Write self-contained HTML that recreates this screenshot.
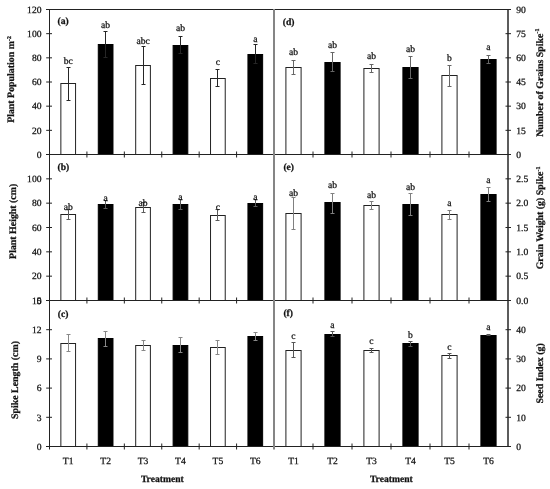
<!DOCTYPE html><html><head><meta charset="utf-8"><title>Figure</title><style>html,body{margin:0;padding:0;background:#fff}svg{display:block}text{font-family:"Liberation Serif","Times New Roman",serif;font-size:9.6px;fill:#111;stroke:#111;stroke-width:.25px;text-rendering:geometricPrecision}.b{font-weight:bold}.ax{stroke:#222;stroke-width:1;fill:none}.eb{stroke:#5a5a5a;stroke-width:1;fill:none}.wb{fill:#fff;stroke:#222;stroke-width:1}.kb{fill:#000;stroke:#000;stroke-width:1}</style></head><body>
<svg width="550" height="489" viewBox="0 0 550 489">
<rect width="550" height="489" fill="#fff"/>
<rect class="wb" x="60.86" y="83.5" width="14.7" height="71.0"/>
<path class="eb" style="stroke:#262626" d="M68.5 67.0V101.0M66.5 67.5h4M66.5 100.5h4"/>
<text x="68.21" y="64.40" text-anchor="middle">bc</text>
<rect class="kb" x="98.28" y="44.5" width="14.7" height="110.0"/>
<path class="eb" style="stroke:#262626" d="M105.5 31.0V58.0M103.5 31.5h4M103.5 57.5h4"/>
<text x="105.62" y="28.00" text-anchor="middle">ab</text>
<rect class="wb" x="135.69" y="65.5" width="14.7" height="89.0"/>
<path class="eb" style="stroke:#262626" d="M143.5 46.0V85.0M141.5 46.5h4M141.5 84.5h4"/>
<text x="143.04" y="43.60" text-anchor="middle">abc</text>
<rect class="kb" x="173.11" y="45.5" width="14.7" height="109.0"/>
<path class="eb" style="stroke:#262626" d="M180.5 36.0V54.0M178.5 36.5h4M178.5 53.5h4"/>
<text x="180.46" y="31.00" text-anchor="middle">ab</text>
<rect class="wb" x="210.53" y="78.5" width="14.7" height="76.0"/>
<path class="eb" style="stroke:#262626" d="M217.5 69.0V87.0M215.5 69.5h4M215.5 86.5h4"/>
<text x="217.88" y="65.00" text-anchor="middle">c</text>
<rect class="kb" x="247.94" y="54.5" width="14.7" height="100.0"/>
<path class="eb" style="stroke:#262626" d="M255.5 44.0V64.0M253.5 44.5h4M253.5 63.5h4"/>
<text x="255.29" y="41.60" text-anchor="middle">a</text>
<rect class="wb" x="60.86" y="214.5" width="14.7" height="86.0"/>
<path class="eb" style="stroke:#5a5a5a" d="M68.5 209.0V220.0M66.5 209.5h4M66.5 219.5h4"/>
<text x="68.21" y="210.40" text-anchor="middle">ab</text>
<rect class="kb" x="98.28" y="204.5" width="14.7" height="96.0"/>
<path class="eb" style="stroke:#5a5a5a" d="M105.5 200.0V209.0M103.5 200.5h4M103.5 208.5h4"/>
<text x="105.62" y="200.60" text-anchor="middle">a</text>
<rect class="wb" x="135.69" y="207.5" width="14.7" height="93.0"/>
<path class="eb" style="stroke:#5a5a5a" d="M143.5 202.0V213.0M141.5 202.5h4M141.5 212.5h4"/>
<text x="143.04" y="205.60" text-anchor="middle">ab</text>
<rect class="kb" x="173.11" y="204.5" width="14.7" height="96.0"/>
<path class="eb" style="stroke:#5a5a5a" d="M180.5 199.0V210.0M178.5 199.5h4M178.5 209.5h4"/>
<text x="180.46" y="199.60" text-anchor="middle">a</text>
<rect class="wb" x="210.53" y="215.5" width="14.7" height="85.0"/>
<path class="eb" style="stroke:#5a5a5a" d="M217.5 209.0V221.0M215.5 209.5h4M215.5 220.5h4"/>
<text x="217.88" y="210.00" text-anchor="middle">c</text>
<rect class="kb" x="247.94" y="203.5" width="14.7" height="97.0"/>
<path class="eb" style="stroke:#5a5a5a" d="M255.5 199.0V207.0M253.5 199.5h4M253.5 206.5h4"/>
<text x="255.29" y="200.40" text-anchor="middle">a</text>
<rect class="wb" x="60.86" y="343.5" width="14.7" height="103.0"/>
<path class="eb" style="stroke:#888" d="M68.5 334.0V352.0M66.5 334.5h4M66.5 351.5h4"/>
<rect class="kb" x="98.28" y="338.5" width="14.7" height="108.0"/>
<path class="eb" style="stroke:#888" d="M105.5 331.0V347.0M103.5 331.5h4M103.5 346.5h4"/>
<rect class="wb" x="135.69" y="345.5" width="14.7" height="101.0"/>
<path class="eb" style="stroke:#888" d="M143.5 340.0V351.0M141.5 340.5h4M141.5 350.5h4"/>
<rect class="kb" x="173.11" y="345.5" width="14.7" height="101.0"/>
<path class="eb" style="stroke:#888" d="M180.5 337.0V353.0M178.5 337.5h4M178.5 352.5h4"/>
<rect class="wb" x="210.53" y="347.5" width="14.7" height="99.0"/>
<path class="eb" style="stroke:#888" d="M217.5 340.0V355.0M215.5 340.5h4M215.5 354.5h4"/>
<rect class="kb" x="247.94" y="336.5" width="14.7" height="110.0"/>
<path class="eb" style="stroke:#888" d="M255.5 332.0V341.0M253.5 332.5h4M253.5 340.5h4"/>
<rect class="wb" x="285.90" y="67.5" width="15.2" height="87.0"/>
<path class="eb" style="stroke:#666" d="M293.5 60.0V75.0M291.5 60.5h4M291.5 74.5h4"/>
<text x="293.50" y="55.00" text-anchor="middle">ab</text>
<rect class="kb" x="324.90" y="62.5" width="15.2" height="92.0"/>
<path class="eb" style="stroke:#666" d="M332.5 52.0V72.0M330.5 52.5h4M330.5 71.5h4"/>
<text x="332.50" y="48.00" text-anchor="middle">ab</text>
<rect class="wb" x="363.90" y="68.5" width="15.2" height="86.0"/>
<path class="eb" style="stroke:#666" d="M371.5 64.0V73.0M369.5 64.5h4M369.5 72.5h4"/>
<text x="371.50" y="59.00" text-anchor="middle">ab</text>
<rect class="kb" x="402.90" y="67.5" width="15.2" height="87.0"/>
<path class="eb" style="stroke:#666" d="M410.5 56.0V79.0M408.5 56.5h4M408.5 78.5h4"/>
<text x="410.50" y="52.00" text-anchor="middle">ab</text>
<rect class="wb" x="441.90" y="75.5" width="15.2" height="79.0"/>
<path class="eb" style="stroke:#666" d="M449.5 65.0V87.0M447.5 65.5h4M447.5 86.5h4"/>
<text x="449.50" y="61.00" text-anchor="middle">b</text>
<rect class="kb" x="480.90" y="59.5" width="15.2" height="95.0"/>
<path class="eb" style="stroke:#666" d="M488.5 55.0V64.0M486.5 55.5h4M486.5 63.5h4"/>
<text x="488.50" y="50.00" text-anchor="middle">a</text>
<rect class="wb" x="285.90" y="213.5" width="15.2" height="87.0"/>
<path class="eb" style="stroke:#808080" d="M293.5 197.0V230.0M291.5 197.5h4M291.5 229.5h4"/>
<text x="293.50" y="196.00" text-anchor="middle">ab</text>
<rect class="kb" x="324.90" y="202.5" width="15.2" height="98.0"/>
<path class="eb" style="stroke:#808080" d="M332.5 193.0V214.0M330.5 193.5h4M330.5 213.5h4"/>
<text x="332.50" y="188.00" text-anchor="middle">ab</text>
<rect class="wb" x="363.90" y="205.5" width="15.2" height="95.0"/>
<path class="eb" style="stroke:#808080" d="M371.5 201.0V210.0M369.5 201.5h4M369.5 209.5h4"/>
<text x="371.50" y="197.60" text-anchor="middle">ab</text>
<rect class="kb" x="402.90" y="204.5" width="15.2" height="96.0"/>
<path class="eb" style="stroke:#808080" d="M410.5 193.0V216.0M408.5 193.5h4M408.5 215.5h4"/>
<text x="410.50" y="189.60" text-anchor="middle">ab</text>
<rect class="wb" x="441.90" y="214.5" width="15.2" height="86.0"/>
<path class="eb" style="stroke:#808080" d="M449.5 210.0V220.0M447.5 210.5h4M447.5 219.5h4"/>
<text x="449.50" y="206.00" text-anchor="middle">a</text>
<rect class="kb" x="480.90" y="194.5" width="15.2" height="106.0"/>
<path class="eb" style="stroke:#808080" d="M488.5 187.0V202.0M486.5 187.5h4M486.5 201.5h4"/>
<text x="488.50" y="183.40" text-anchor="middle">a</text>
<rect class="wb" x="285.90" y="350.5" width="15.2" height="96.0"/>
<path class="eb" style="stroke:#555" d="M293.5 342.0V358.0M291.5 342.5h4M291.5 357.5h4"/>
<text x="293.50" y="339.00" text-anchor="middle">c</text>
<rect class="kb" x="324.90" y="334.5" width="15.2" height="112.0"/>
<path class="eb" style="stroke:#555" d="M332.5 331.0V337.0M330.5 331.5h4M330.5 336.5h4"/>
<text x="332.50" y="328.00" text-anchor="middle">a</text>
<rect class="wb" x="363.90" y="350.5" width="15.2" height="96.0"/>
<path class="eb" style="stroke:#555" d="M371.5 348.0V353.0M369.5 348.5h4M369.5 352.5h4"/>
<text x="371.50" y="344.40" text-anchor="middle">c</text>
<rect class="kb" x="402.90" y="343.5" width="15.2" height="103.0"/>
<path class="eb" style="stroke:#555" d="M410.5 341.0V347.0M408.5 341.5h4M408.5 346.5h4"/>
<text x="410.50" y="337.60" text-anchor="middle">b</text>
<rect class="wb" x="441.90" y="355.5" width="15.2" height="91.0"/>
<path class="eb" style="stroke:#555" d="M449.5 353.0V359.0M447.5 353.5h4M447.5 358.5h4"/>
<text x="449.50" y="350.00" text-anchor="middle">c</text>
<rect class="kb" x="480.90" y="335.5" width="15.2" height="111.0"/>
<path class="eb" style="stroke:#555" d="M488.5 334.0V336.0M486.5 334.5h4M486.5 335.5h4"/>
<text x="488.50" y="330.40" text-anchor="middle">a</text>
<path class="ax" d="M46.0 9.5H511.0"/>
<path class="ax" d="M46.0 154.5H511.0"/>
<path class="ax" d="M46.0 300.5H511.0"/>
<path class="ax" d="M46.0 446.5H511.0"/>
<path class="ax" d="M49.5 9.0V449.5"/>
<rect x="273" y="9" width="2" height="440.5" fill="#858585"/>
<rect x="507" y="9" width="2" height="438" fill="#5c5c5c"/>
<path class="ax" d="M86.92 151.5V157.5M124.33 151.5V157.5M161.75 151.5V157.5M199.17 151.5V157.5M236.58 151.5V157.5M313.00 151.5V157.5M352.00 151.5V157.5M391.00 151.5V157.5M430.00 151.5V157.5M469.00 151.5V157.5"/>
<path class="ax" d="M86.92 297.5V303.5M124.33 297.5V303.5M161.75 297.5V303.5M199.17 297.5V303.5M236.58 297.5V303.5M313.00 297.5V303.5M352.00 297.5V303.5M391.00 297.5V303.5M430.00 297.5V303.5M469.00 297.5V303.5"/>
<path class="ax" d="M86.92 443.5V449.5M124.33 443.5V449.5M161.75 443.5V449.5M199.17 443.5V449.5M236.58 443.5V449.5M313.00 443.5V449.5M352.00 443.5V449.5M391.00 443.5V449.5M430.00 443.5V449.5M469.00 443.5V449.5"/>
<text x="41.5" y="157.70" text-anchor="end">0</text>
<text x="41.5" y="133.53" text-anchor="end">20</text>
<text x="41.5" y="109.37" text-anchor="end">40</text>
<text x="41.5" y="85.20" text-anchor="end">60</text>
<text x="41.5" y="61.03" text-anchor="end">80</text>
<text x="41.5" y="36.87" text-anchor="end">100</text>
<text x="41.5" y="12.70" text-anchor="end">120</text>
<path class="ax" d="M46.2 154.50H52.0M46.2 130.33H52.0M46.2 106.17H52.0M46.2 82.00H52.0M46.2 57.83H52.0M46.2 33.67H52.0M46.2 9.50H52.0"/>
<text x="41.5" y="303.70" text-anchor="end">0</text>
<text x="41.5" y="279.37" text-anchor="end">20</text>
<text x="41.5" y="255.03" text-anchor="end">40</text>
<text x="41.5" y="230.70" text-anchor="end">60</text>
<text x="41.5" y="206.37" text-anchor="end">80</text>
<text x="41.5" y="182.03" text-anchor="end">100</text>
<path class="ax" d="M46.2 300.50H52.0M46.2 276.17H52.0M46.2 251.83H52.0M46.2 227.50H52.0M46.2 203.17H52.0M46.2 178.83H52.0M46.2 154.50H52.0"/>
<text x="41.5" y="449.70" text-anchor="end">0</text>
<text x="41.5" y="420.50" text-anchor="end">3</text>
<text x="41.5" y="391.30" text-anchor="end">6</text>
<text x="41.5" y="362.10" text-anchor="end">9</text>
<text x="41.5" y="332.90" text-anchor="end">12</text>
<text x="41.5" y="303.70" text-anchor="end">15</text>
<path class="ax" d="M46.2 446.50H52.0M46.2 417.30H52.0M46.2 388.10H52.0M46.2 358.90H52.0M46.2 329.70H52.0M46.2 300.50H52.0"/>
<text x="516.2" y="157.70">0</text>
<text x="516.2" y="133.53">15</text>
<text x="516.2" y="109.37">30</text>
<text x="516.2" y="85.20">45</text>
<text x="516.2" y="61.03">60</text>
<text x="516.2" y="36.87">75</text>
<text x="516.2" y="12.70">90</text>
<path class="ax" d="M505.5 154.50H511.0M505.5 130.33H511.0M505.5 106.17H511.0M505.5 82.00H511.0M505.5 57.83H511.0M505.5 33.67H511.0M505.5 9.50H511.0"/>
<text x="516.2" y="303.70">0.0</text>
<text x="516.2" y="279.37">0.5</text>
<text x="516.2" y="255.03">1.0</text>
<text x="516.2" y="230.70">1.5</text>
<text x="516.2" y="206.37">2.0</text>
<text x="516.2" y="182.03">2.5</text>
<path class="ax" d="M505.5 300.50H511.0M505.5 276.17H511.0M505.5 251.83H511.0M505.5 227.50H511.0M505.5 203.17H511.0M505.5 178.83H511.0M505.5 154.50H511.0"/>
<text x="516.2" y="449.70">0</text>
<text x="516.2" y="420.50">10</text>
<text x="516.2" y="391.30">20</text>
<text x="516.2" y="362.10">30</text>
<text x="516.2" y="332.90">40</text>
<path class="ax" d="M505.5 446.50H511.0M505.5 417.30H511.0M505.5 388.10H511.0M505.5 358.90H511.0M505.5 329.70H511.0M505.5 300.50H511.0"/>
<text class="b" x="57.6" y="24.4">(a)</text>
<text class="b" x="57.6" y="170.4">(b)</text>
<text class="b" x="57.8" y="316.6">(c)</text>
<text class="b" x="282.8" y="24.7">(d)</text>
<text class="b" x="283.4" y="170.4">(e)</text>
<text class="b" x="283.4" y="316.4">(f)</text>
<text x="68.21" y="464.2" text-anchor="middle">T1</text>
<text x="105.62" y="464.2" text-anchor="middle">T2</text>
<text x="143.04" y="464.2" text-anchor="middle">T3</text>
<text x="180.46" y="464.2" text-anchor="middle">T4</text>
<text x="217.88" y="464.2" text-anchor="middle">T5</text>
<text x="255.29" y="464.2" text-anchor="middle">T6</text>
<text x="293.50" y="464.2" text-anchor="middle">T1</text>
<text x="332.50" y="464.2" text-anchor="middle">T2</text>
<text x="371.50" y="464.2" text-anchor="middle">T3</text>
<text x="410.50" y="464.2" text-anchor="middle">T4</text>
<text x="449.50" y="464.2" text-anchor="middle">T5</text>
<text x="488.50" y="464.2" text-anchor="middle">T6</text>
<text class="b" x="162.3" y="482" text-anchor="middle">Treatment</text>
<text class="b" x="391.3" y="482" text-anchor="middle">Treatment</text>
<text class="b" style="font-size:9.9px" text-anchor="middle" transform="translate(14.4 79.5) rotate(-90)">Plant Population m<tspan dy="-3.6" style="font-size:5.9px">-2</tspan></text>
<text class="b" style="font-size:9.9px" text-anchor="middle" transform="translate(16.4 221.3) rotate(-90)">Plant Height (cm)</text>
<text class="b" style="font-size:9.9px" text-anchor="middle" transform="translate(17.9 380.0) rotate(-90)">Spike Length (cm)</text>
<text class="b" style="font-size:9.9px" text-anchor="middle" transform="translate(543.0 82.7) rotate(-90)">Number of Grains Spike<tspan dy="-3.6" style="font-size:5.9px">-1</tspan></text>
<text class="b" style="font-size:9.9px" text-anchor="middle" transform="translate(543.2 218.0) rotate(-90)">Grain Weight (g) Spike<tspan dy="-3.6" style="font-size:5.9px">-1</tspan></text>
<text class="b" style="font-size:9.9px" text-anchor="middle" transform="translate(542.8 373.4) rotate(-90)">Seed Index (g)</text>
</svg></body></html>
